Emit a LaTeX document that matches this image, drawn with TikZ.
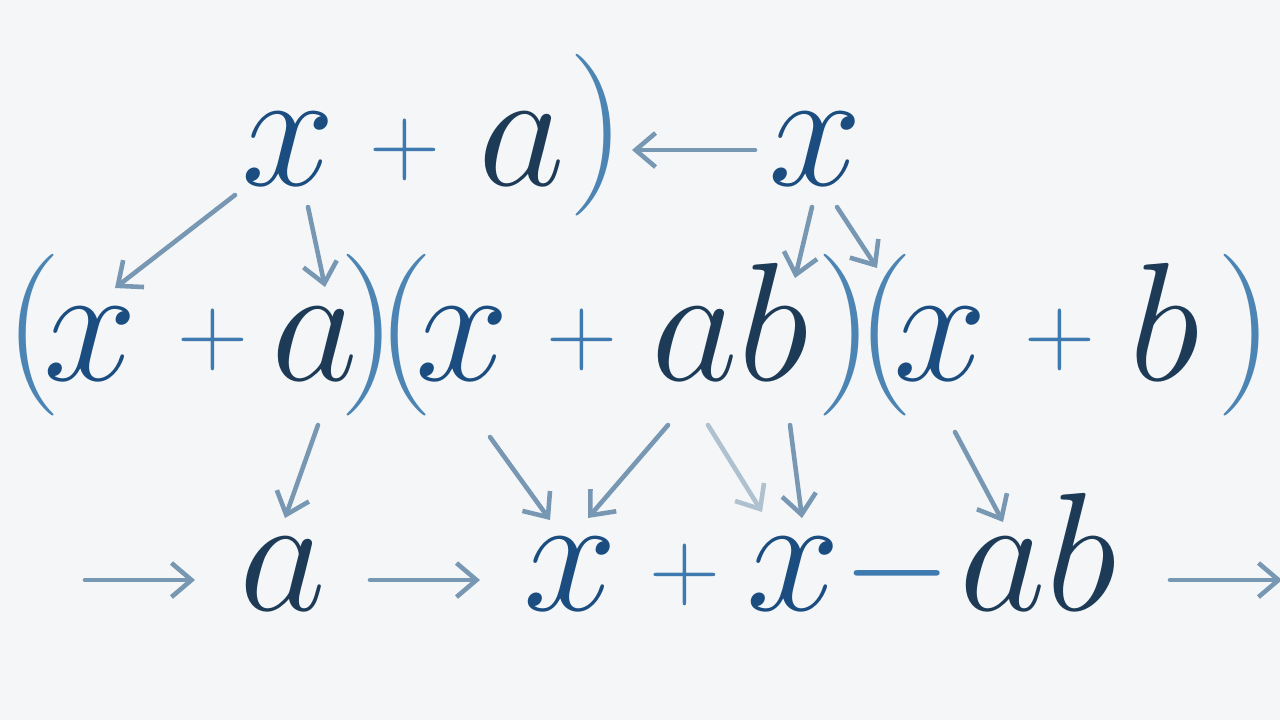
\RequirePackage{fix-cm}
\documentclass[tikz,border=0pt]{standalone}
\usetikzlibrary{arrows.meta, calc}

\definecolor{bgcol}{HTML}{F4F6F7}
\definecolor{xcol}{HTML}{1B4D80}
\definecolor{abcol}{HTML}{1D3B57}
\definecolor{opcol}{HTML}{3E79AF}
\definecolor{parcol}{HTML}{4C85B3}
\definecolor{arrcol}{HTML}{7797B3}
\definecolor{fadecol}{HTML}{AFC0CE}

\begin{document}
\begin{tikzpicture}[
            x = 0.01cm, y = -0.01cm, % one unit per pixel, y downwards
            > = {Straight Barb[length=2mm, width=3.4mm]}, % arrow head style
            varx/.style = {anchor=base, inner sep=0pt, text=xcol,
                font=\fontsize{48}{58}\selectfont},
            varab/.style = {anchor=base, inner sep=0pt, text=abcol,
                font=\fontsize{48}{58}\selectfont},
            op/.style = {anchor=center, inner sep=0pt, text=opcol,
                font=\fontsize{28}{34}\selectfont},
            paren/.style = {anchor=center, inner sep=0pt, text=parcol,
                font=\fontsize{46}{56}\selectfont},
            arr/.style = {draw=arrcol, line width=1.3pt, line cap=round, ->},
            fadearr/.style = {arr, draw=fadecol}
        ]

        % background and page size
        \fill[bgcol] (0,0) rectangle (1280,720);
        \useasboundingbox (0,0) rectangle (1280,720);

        % top row
        \node[varx] (tx) at (288,185) {$x$};
        \node[op] (tplus) at (405,150) {$+$};
        \node[varab] (ta) at (522,185) {$a$};
        \node[paren] (trp) at (597,135) {$)$};
        \node[varx] (tx2) at (815,185) {$x$};

        % middle row
        \node[paren] (mlp1) at (33,335) {$($};
        \node[varx] (mx1) at (90,380) {$x$};
        \node[op] (mplus1) at (213,340) {$+$};
        \node[varab] (ma1) at (315,380) {$a$};
        \node[paren] (mrp1) at (368,335) {$)$};
        \node[paren] (mlp2) at (405,335) {$($};
        \node[varx] (mx2) at (462,380) {$x$};
        \node[op] (mplus2) at (582,340) {$+$};
        \node[varab] (mab) at (730,380) {$ab$};
        \node[paren] (mrp2) at (845,335) {$)$};
        \node[paren] (mlp3) at (885,335) {$($};
        \node[varx] (mx3) at (940,380) {$x$};
        \node[op] (mplus3) at (1060,340) {$+$};
        \node[varab] (mb) at (1165,380) {$b$};
        \node[paren] (mrp3) at (1245,335) {$)$};

        % bottom row
        \node[varab] (ba) at (283,610) {$a$};
        \node[varx] (bx1) at (570,610) {$x$};
        \node[op] (bplus) at (685,575) {$+$};
        \node[varx] (bx2) at (793,610) {$x$};
        \node[op, font=\fontsize{40}{48}\selectfont] (bminus) at (897,573) {$-$};
        \node[varab] (bab) at (1038,610) {$ab$};

        \coordinate (hin) at ($(ba.base)+(-198,-30)$);
        \coordinate (hout) at ($(bab.base)+(244,-30)$);

        % top arrows
        \draw[arr] ($(tx2.base)+(-60,-35)$) -- ($(trp.center)+(35,15)$);
        \draw[arr] ($(tx.base)+(-53,10)$) -- ($(mx1.base)+(25,-92)$);
        \draw[arr] ($(tx.base)+(20,22)$) -- ($(ma1.base)+(10,-93)$);
        \draw[arr] ($(tx2.base)+(-3,22)$) -- ($(mab.base)+(65,-102)$);
        \draw[arr] ($(tx2.base)+(22,22)$) -- ($(mx3.base)+(-63,-112)$);

        % middle to bottom
        \draw[arr] ($(ma1.base)+(3,45)$) -- ($(ba.base)+(2,-92)$);
        \draw[arr] ($(mx2.base)+(28,57)$) -- ($(bx1.base)+(-20,-90)$);
        \draw[arr] ($(mab.base)+(-62,45)$) -- ($(bx1.base)+(18,-92)$);
        \draw[fadearr] ($(mab.base)+(-22,45)$) -- ($(bx2.base)+(-31,-98)$);
        \draw[arr] ($(mab.base)+(60,45)$) -- ($(bx2.base)+(9,-92)$);
        \draw[arr] ($(mx3.base)+(15,52)$) -- ($(bab.base)+(-35,-88)$);

        % bottom arrows
        \draw[arr] (hin) -- ($(ba.base)+(-88,-30)$);
        \draw[arr] ($(ba.base)+(87,-30)$) -- ($(bx1.base)+(-90,-30)$);
        \draw[arr] ($(bab.base)+(132,-30)$) -- (hout);

    \end{tikzpicture}
\end{document}
